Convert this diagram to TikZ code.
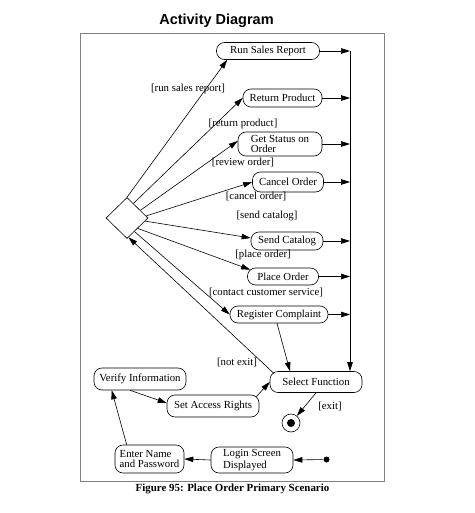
\documentclass[tikz,border=0pt]{standalone}
\usepackage{fontspec}
\setmainfont{Liberation Serif}
\newfontfamily\titlefont{Liberation Sans}
\usetikzlibrary{arrows.meta,shapes.geometric,calc}
\begin{document}
\begin{tikzpicture}[x=1pt,y=-1pt,
  act/.style={draw, rounded corners=8pt, inner sep=1pt, line width=0.6pt,
    font=\fontsize{10.8}{10}\selectfont},
  lbl/.style={font=\fontsize{10.8}{12}\selectfont, inner sep=0pt},
  arr/.style={-{Triangle[length=9pt,width=5.5pt]}, line width=0.6pt},
]
\useasboundingbox (0,0) rectangle (474,513);
\fill[white] (0,0) rectangle (474,513);
\node[font=\titlefont\bfseries\fontsize{14.5}{16}\selectfont] (title) at (216.5,21) {Activity Diagram};
\draw[gray, line width=1pt] (80,34) rectangle (384,481);
\node[font=\bfseries\fontsize{10.9}{12}\selectfont] (cap) at (232.5,489) {Figure 95: Place Order Primary Scenario};

% activity nodes
\node[act, minimum width=103, minimum height=17] (rsr) at (268,51) {Run Sales Report};
\node[act, minimum width=79, minimum height=18] (rp) at (282.5,98) {Return Product};
\node[act, minimum width=84, minimum height=24, align=left] (gs) at (280,144) {Get Status on\\Order};
\node[act, minimum width=71, minimum height=20] (co) at (288,182) {Cancel Order};
\node[act, minimum width=72, minimum height=18] (sc) at (287,241) {Send Catalog};
\node[act, minimum width=71, minimum height=17] (po) at (283,276.5) {Place Order};
\node[act, minimum width=98, minimum height=17] (rc) at (279,314.5) {Register Complaint};
\node[act, minimum width=92, minimum height=21] (sf) at (316,382) {Select Function};
\node[act, minimum width=92, minimum height=22] (vi) at (140,379) {Verify Information};
\node[act, minimum width=92, minimum height=22] (sar) at (213,406) {Set Access Rights};
\node[act, minimum width=69, minimum height=28, align=left, font=\fontsize{10.8}{10.5}\selectfont] (enp) at (149.5,459) {Enter Name\\and Password};
\node[act, minimum width=82, minimum height=26, align=left, font=\fontsize{10.8}{12.5}\selectfont] (lsd) at (252,460) {Login Screen\\Displayed};

% decision diamond, initial and final states
\node[draw, diamond, minimum width=42, minimum height=41, inner sep=0pt, line width=0.6pt] (d) at (127,218) {};
\node[circle, fill, minimum size=6, inner sep=0pt] (init) at (326.5,459.5) {};
\node[circle, draw, minimum size=18, inner sep=0pt, line width=0.6pt] (fin) at (291,423) {};
\node[circle, fill, minimum size=8, inner sep=0pt] (finin) at (fin) {};

% points on the diamond
\coordinate (d1) at (d.north);
\coordinate (d2) at ($(d.north)!0.3!(d.east)$);
\coordinate (d3) at ($(d.north)!0.63!(d.east)$);
\coordinate (d4) at ($(d.north)!0.9!(d.east)$);
\coordinate (d5) at ($(d.east)!0.15!(d.south)$);
\coordinate (d6) at ($(d.east)!0.5!(d.south)$);
\coordinate (d7) at ($(d.east)!0.65!(d.south)$);
\coordinate (d8) at ($(d.east)!0.93!(d.south)$);

% diamond to activities
\draw[arr] (d1) -- ($(rsr.south west)+(11,0)$);
\draw[arr] (d2) -- (rp.west);
\draw[arr] (d3) -- ($(gs.west)+(0,-3)$);
\draw[arr] (d4) -- (co.west);
\draw[arr] (d5) -- ($(sc.west)+(0,-3)$);
\draw[arr] (d6) -- ($(po.north west)+(3,2)$);
\draw[arr] (d7) -- (rc.west);
\draw[arr] ($(sf.north west)+(4,2)$) -- (d8);

% collecting bar
\coordinate (bt) at (350,51);
\draw[arr] (bt) -- (bt |- sf.north);
\foreach \n in {rsr,rp,gs,co,sc,po,rc}{
  \draw[arr] (\n.east) -- (\n.east -| bt);
}

% other flows
\draw[arr] ($(rc.south)+(-2,0)$) -- ($(sf.north)+(-26,0)$);
\draw[arr] (sf.south) -- (fin);
\draw[arr] ($(vi.south)+(-10,0)$) -- ($(sar.west)+(0,-3)$);
\draw[arr] ($(sar.north east)+(-3,2)$) -- (sf.west);
\draw[arr] (init) -- (lsd.east);
\draw[arr] (lsd.west) -- (enp.east);
\draw[arr] ($(enp.north west)+(12,0)$) -- ($(vi.south west)+(18,0)$);

% guards
\node[lbl] (l1) at (188,89) {[run sales report]};
\node[lbl] (l2) at (243,124) {[return product]};
\node[lbl] (l3) at (243,162) {[review order]};
\node[lbl] (l4) at (256,196) {[cancel order]};
\node[lbl] (l5) at (267,216) {[send catalog]};
\node[lbl] (l6) at (263,255) {[place order]};
\node[lbl] (l7) at (266,292) {[contact customer service]};
\node[lbl] (l8) at (237,362) {[not exit]};
\node[lbl] (l9) at (330,406) {[exit]};
\end{tikzpicture}
\end{document}
